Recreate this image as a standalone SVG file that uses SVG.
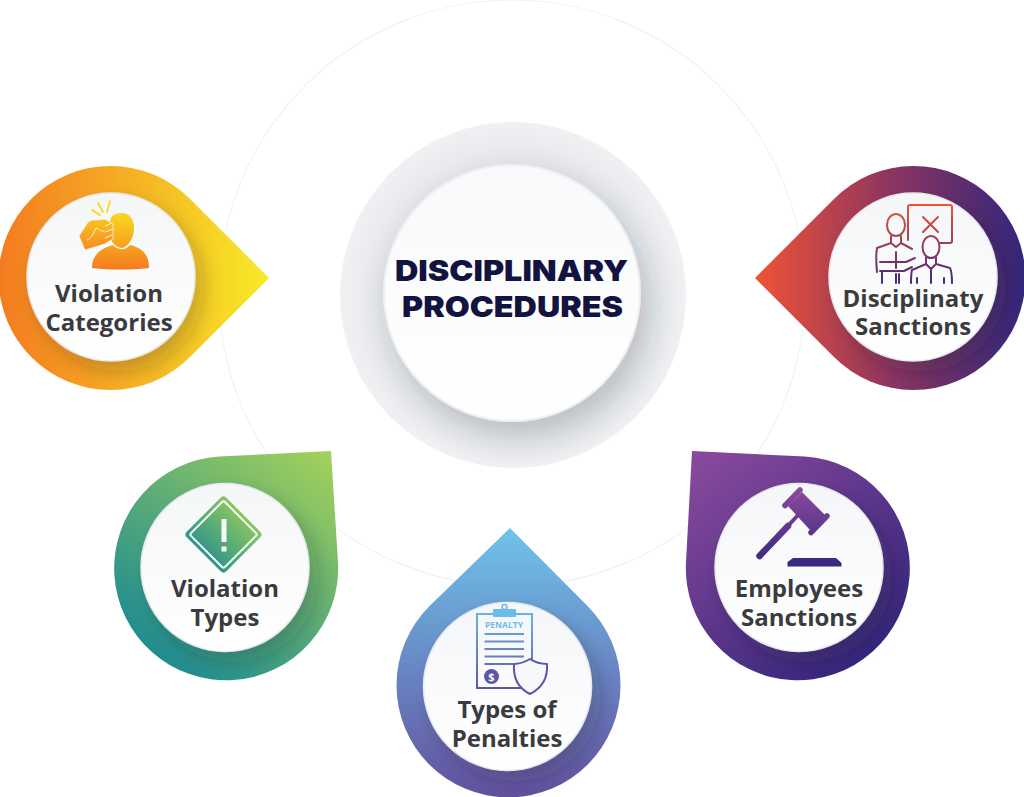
<svg xmlns="http://www.w3.org/2000/svg" width="1024" height="797" viewBox="0 0 1024 797">
<style>
.lab{font-family:"Open Sans","Liberation Sans",sans-serif;font-weight:700;font-size:24px;fill:#3a3b3f;text-anchor:middle}
.title{font-family:Inter,"Liberation Sans",sans-serif;font-weight:900;font-size:29px;fill:#12133f}
.disc{fill:url(#discFill);stroke:#e6e9ee;stroke-width:1.5;filter:url(#sh)}
.ln{fill:none;stroke-linecap:round;stroke-linejoin:round}
</style>
<defs>
<filter id="sh" x="-30%" y="-30%" width="170%" height="170%"><feDropShadow dx="8" dy="10" stdDeviation="9" flood-color="#22222a" flood-opacity=".22"/></filter>
<filter id="shC" x="-30%" y="-30%" width="170%" height="170%"><feDropShadow dx="8" dy="15" stdDeviation="15" flood-color="#2a2d33" flood-opacity=".22"/></filter>
<linearGradient id="discFill" x1="0" y1="0" x2="0" y2="1"><stop offset="0" stop-color="#f5f6f8"/><stop offset="1" stop-color="#ffffff"/></linearGradient>
<linearGradient id="cInner" x1="0" y1="0" x2="0" y2="1"><stop offset="0" stop-color="#f8f9fa"/><stop offset="1" stop-color="#ffffff"/></linearGradient>
<radialGradient id="cOuter" gradientUnits="userSpaceOnUse" cx="513" cy="295" r="173"><stop offset=".72" stop-color="#e3e5e9"/><stop offset="1" stop-color="#f0f1f3"/></radialGradient>
<linearGradient id="gY" gradientUnits="userSpaceOnUse" x1="0" y1="278" x2="269" y2="278"><stop offset="0" stop-color="#f47b20"/><stop offset="1" stop-color="#f7ea27"/></linearGradient>
<linearGradient id="gD" gradientUnits="userSpaceOnUse" x1="755" y1="278" x2="1024" y2="278"><stop offset="0" stop-color="#ef5335"/><stop offset=".5" stop-color="#8e3560"/><stop offset="1" stop-color="#33267a"/></linearGradient>
<linearGradient id="gG" gradientUnits="userSpaceOnUse" x1="332" y1="451" x2="160" y2="670"><stop offset="0" stop-color="#a5d259"/><stop offset="1" stop-color="#1a8a92"/></linearGradient>
<linearGradient id="gB" gradientUnits="userSpaceOnUse" x1="510" y1="528" x2="510" y2="797"><stop offset="0" stop-color="#6fc3ec"/><stop offset="1" stop-color="#62509e"/></linearGradient>
<linearGradient id="gP" gradientUnits="userSpaceOnUse" x1="692" y1="451" x2="860" y2="660"><stop offset="0" stop-color="#8b4a9e"/><stop offset="1" stop-color="#36267c"/></linearGradient>
<linearGradient id="iY" gradientUnits="userSpaceOnUse" x1="0" y1="213" x2="0" y2="270"><stop offset="0" stop-color="#f8d820"/><stop offset="1" stop-color="#f57a20"/></linearGradient>
<linearGradient id="iF" gradientUnits="userSpaceOnUse" x1="0" y1="218" x2="0" y2="250"><stop offset="0" stop-color="#f9c61f"/><stop offset="1" stop-color="#f58a20"/></linearGradient>
<linearGradient id="iD" gradientUnits="userSpaceOnUse" x1="0" y1="205" x2="0" y2="284"><stop offset="0" stop-color="#ef5335"/><stop offset="1" stop-color="#3f2a80"/></linearGradient>
<linearGradient id="iG" gradientUnits="userSpaceOnUse" x1="0" y1="496" x2="0" y2="574"><stop offset="0" stop-color="#9bcf58"/><stop offset="1" stop-color="#1c8b92"/></linearGradient>
<linearGradient id="iB" gradientUnits="userSpaceOnUse" x1="0" y1="604" x2="0" y2="695"><stop offset="0" stop-color="#6cc0ea"/><stop offset="1" stop-color="#5f4c9d"/></linearGradient>
<linearGradient id="iP" gradientUnits="userSpaceOnUse" x1="0" y1="488" x2="0" y2="567"><stop offset="0" stop-color="#8b4a9e"/><stop offset="1" stop-color="#36267c"/></linearGradient>
</defs>

<circle id="ring" cx="512" cy="293" r="293" fill="none" stroke="#f1f2f3" stroke-width="1.2"/>

<g id="center">
<circle cx="513" cy="295" r="173" fill="url(#cOuter)"/>
<circle cx="512" cy="293" r="128" fill="url(#cInner)" stroke="#eef0f3" stroke-width="2" filter="url(#shC)"/>
<text class="title" x="395" y="281" textLength="233" lengthAdjust="spacingAndGlyphs">DISCIPLINARY</text>
<text class="title" x="402" y="317" textLength="221" lengthAdjust="spacingAndGlyphs">PROCEDURES</text>
</g>

<g id="violation-categories">
<path d="M269 278L190 199A112 112 0 1 0 190 357Z" fill="url(#gY)"/>
<circle class="disc" cx="111" cy="277" r="84"/>
<g>
<path d="M92 268C92 254 102 248 113 245C117 250 125 251 130 245C142 248 149 254 149 268C130 270 110 270 92 268Z" fill="url(#iY)"/>
<path d="M110 222C110 215 116 213 122 213C129 213 134 219 134 228C134 238 128 247 122 248C117 248 112 243 110 238Z" fill="url(#iY)"/>
<path d="M79 236L88 222Q92 219 97 220L105 219L113 224L113 239L105 244L85 250Z" fill="url(#iF)" stroke="#f5f6f8" stroke-width=".8" stroke-linejoin="round"/>
<path d="M87 240C92 238 94 232 96 228C99 228 100 232 104 231M105 226L112 223M105 232L113 229M105 238L112 235" fill="none" stroke="#fbfbfb" stroke-width=".9"/>
<path d="M92 210L100 215M98 203L103 212M110 201L107 212" class="ln" stroke="#f8d820" stroke-width="1.800"/>
</g>
<text class="lab" x="109" y="302">Violation</text>
<text class="lab" x="109" y="331">Categories</text>
</g>

<g id="disciplinary-sanctions">
<path d="M755 278L834 199A112 112 0 1 1 834 357Z" fill="url(#gD)"/>
<circle class="disc" cx="913" cy="277" r="84"/>
<g class="ln" stroke="url(#iD)" stroke-width="2">
<path d="M908 240V207A2 2 0 0 1 910 205H950A2 2 0 0 1 952 207V241A2 2 0 0 1 950 243H940"/>
<path d="M923 217L938 232M938 217L923 232"/>
<ellipse cx="896" cy="225" rx="9" ry="11"/>
<path d="M891 236V243L896 247L901 243V236M891 243L877 248C876 254 876 262 877 272M901 243L912 249"/>
<path d="M880 262H906L915 258M880 271H904L912 267"/>
<path d="M882 272V283M896 252V268M896 274V283M899 274V283"/>
<ellipse cx="931" cy="247" rx="8.500" ry="11"/>
<path d="M926 257V264L931 269L936 264V257M926 264L912 270C911 274 911 279 911 283M936 264L950 268C952 272 952 278 952 283"/>
<path d="M917 278V283M931 270V283M944 278V283"/>
</g>
<text class="lab" x="913" y="307">Disciplinaty</text>
<text class="lab" x="913" y="335">Sanctions</text>
</g>

<g id="violation-types">
<path d="M331 451L219 456.500A112 112 0 1 0 338 562Z" fill="url(#gG)"/>
<circle class="disc" cx="225" cy="567.500" r="84"/>
<g>
<rect x="195.500" y="506.500" width="56" height="56" rx="4" transform="rotate(45 223.500 534.500)" fill="url(#iG)"/>
<rect x="199.500" y="510.500" width="48" height="48" rx="2" transform="rotate(45 223.500 534.500)" fill="none" stroke="#f7f8f9" stroke-width="2"/>
<rect x="221.500" y="519" width="5" height="23" fill="#f7f8f9"/>
<rect x="221.500" y="546.500" width="5" height="5" fill="#f7f8f9"/>
</g>
<text class="lab" x="225" y="597">Violation</text>
<text class="lab" x="225" y="626">Types</text>
</g>

<g id="types-of-penalties">
<path d="M510 528L429.500 606A112 112 0 1 0 587.500 606Z" fill="url(#gB)"/>
<circle class="disc" cx="507.500" cy="686.500" r="84"/>
<g>
<rect x="477" y="614" width="55" height="74" fill="none" stroke="url(#iB)" stroke-width="2"/>
<rect x="493" y="609" width="23" height="8" rx="1" fill="#6cbce8"/>
<circle cx="504.500" cy="607" r="2.500" fill="none" stroke="#6cbce8" stroke-width="1.500"/>
<text x="485" y="628" font-family="Open Sans,Liberation Sans,sans-serif" font-weight="700" font-size="9.500" fill="#6cbce8" textLength="38" lengthAdjust="spacingAndGlyphs">PENALTY</text>
<path d="M484.500 634H524M484.500 641.500H524M484.500 649H524M484.500 656.500H524M484.500 664H513" fill="none" stroke="url(#iB)" stroke-width="2"/>
<circle cx="491.500" cy="676.500" r="7.500" fill="#5f55a5"/>
<text x="491.500" y="680.500" font-family="Open Sans,Liberation Sans,sans-serif" font-weight="700" font-size="11" fill="#f7f8f9" text-anchor="middle">$</text>
<path d="M530 659C523 663 519 664 514 664C513 678 518 688 530 694C542 688 548 678 547 664C541 664 536 663 530 659Z" fill="#f7f8f9" stroke="#5f55a5" stroke-width="2" stroke-linejoin="round"/>
</g>
<text class="lab" x="507" y="718">Types of</text>
<text class="lab" x="507" y="747">Penalties</text>
</g>

<g id="employees-sanctions">
<path d="M692 451L805 456.500A112 112 0 1 1 686 562Z" fill="url(#gP)"/>
<circle class="disc" cx="799" cy="567.500" r="84"/>
<g>
<path d="M759.500 556L788 526" class="ln" stroke="url(#iP)" stroke-width="6.500"/>
<path d="M786 528L799 514" class="ln" stroke="url(#iP)" stroke-width="4"/>
<path d="M785 505.500L800 490" class="ln" stroke="url(#iP)" stroke-width="5.500"/>
<path d="M811 532.500L827 516" class="ln" stroke="url(#iP)" stroke-width="5.500"/>
<path d="M788 506L802 492L825 515L810 530Z" fill="url(#iP)"/>
<path d="M787.500 566.500V562L793 558H836L841.500 563V566.500Z" fill="url(#iP)"/>
</g>
<text class="lab" x="799" y="597">Employees</text>
<text class="lab" x="799" y="626">Sanctions</text>
</g>
</svg>
